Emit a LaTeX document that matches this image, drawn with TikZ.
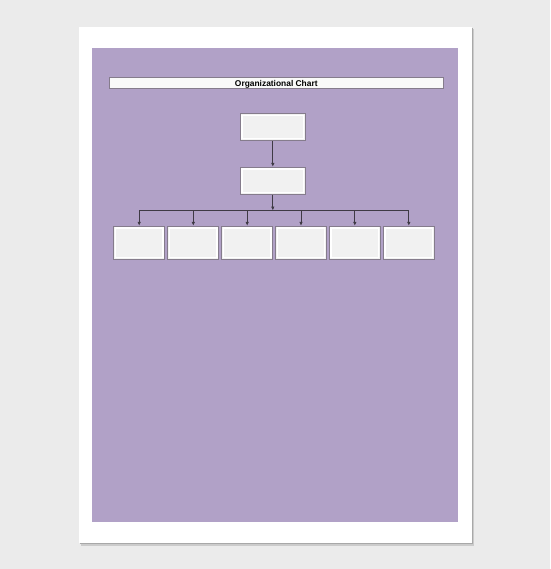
\documentclass[tikz,border=0pt]{standalone}
\usepackage{fontspec}
\setmainfont{Liberation Sans}
\usetikzlibrary{arrows.meta,calc}
\definecolor{bggray}{HTML}{EBEBEB}
\definecolor{shadowgray}{HTML}{A8A8A8}
\definecolor{purplebg}{HTML}{B1A1C7}
\definecolor{boxedge}{HTML}{857C8C}
\definecolor{boxfill}{HTML}{F1F1F1}
\definecolor{linecol}{HTML}{3F3A45}
\tikzset{
  orgbox/.style={draw=boxedge, line width=1pt, fill=boxfill, minimum width=51pt, minimum height=33pt, inner sep=0pt,
    path picture={\draw[white, line width=1.4pt] ([shift={(1.8pt,-1.8pt)}]path picture bounding box.north west) rectangle ([shift={(-1.8pt,1.8pt)}]path picture bounding box.south east);}},
  topbox/.style={orgbox, minimum width=65pt, minimum height=27pt},
  titlebar/.style={draw=boxedge, line width=0.7pt, fill=white!60!boxfill, minimum width=334pt, minimum height=11pt, inner sep=0pt, text height=6.6pt, text depth=0pt, font=\bfseries\fontsize{8.4}{9}\selectfont},
  conn/.style={draw=linecol, line width=0.8pt, -{Latex[length=4pt,width=3.6pt]}},
  busline/.style={draw=linecol, line width=0.8pt}
}
\begin{document}
\begin{tikzpicture}[x=1pt,y=-1pt]
\useasboundingbox (0,0) rectangle (550,569);
\fill[bggray] (0,0) rectangle (550,569);
% page shadow
\fill[shadowgray!60] (80.5,29) rectangle (474,545.5);
\fill[shadowgray] (80,28) rectangle (472.8,543.8);
\fill[white] (78.5,26.7) rectangle (471.7,542.7);
% purple area
\fill[purplebg] (91.7,47.7) rectangle (458,521.7);
% title
\node[titlebar] (title) at (276.3,82.8) {Organizational Chart};
% top boxes
\node[topbox] (ceo) at (272.8,127) {};
\node[topbox] (mgr) at (272.8,180.8) {};
% bottom boxes
\node[orgbox] (b1) at (139.2,242.8) {};
\node[orgbox] (b2) at (193.3,242.8) {};
\node[orgbox] (b3) at (247.2,242.8) {};
\node[orgbox] (b4) at (301,242.8) {};
\node[orgbox] (b5) at (354.8,242.8) {};
\node[orgbox] (b6) at (408.8,242.8) {};
% connectors
\draw[conn] (ceo.south) -- (mgr.north);
\coordinate (bus) at (272.8,210.5);
\draw[conn] (mgr.south) -- (bus);
\coordinate (busL) at (b1.north |- bus);
\coordinate (busR) at (b6.north |- bus);
\draw[busline] (busL) -- (busR);
\foreach \b in {b1,b2,b3,b4,b5,b6}{
  \draw[conn] (\b.north |- bus) -- (\b.north);
}
\end{tikzpicture}
\end{document}
